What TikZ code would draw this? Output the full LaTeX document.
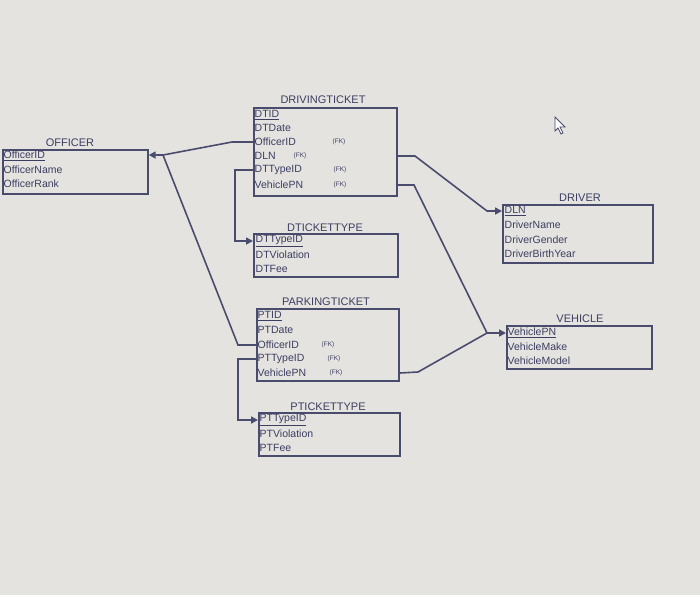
\documentclass[tikz,border=0pt]{standalone}
\usepackage{fontspec}
\setmainfont{Liberation Sans}
\usetikzlibrary{arrows.meta}
\definecolor{bg}{HTML}{E4E3DF}
\definecolor{ln}{HTML}{4A4C6E}
\definecolor{tx}{HTML}{3C3E62}
\tikzset{
 box/.style={draw=ln,line width=1.7pt,anchor=north west,inner sep=0pt},
 row/.style={anchor=west,inner sep=0.5pt,text=tx,font=\fontsize{10.5}{11}\selectfont},
 ttl/.style={inner sep=0pt,text=tx,font=\fontsize{11}{12}\selectfont},
 fk/.style={inner sep=0pt,text=tx,font=\fontsize{6.5}{7}\selectfont},
 con/.style={draw=ln,line width=1.6pt},
 arr/.style={con,-{Triangle[length=7pt,width=7pt]}}
}
\begin{document}
\begin{tikzpicture}[x=1pt,y=-1pt]
\fill[bg] (0,0) rectangle (700,595);
\useasboundingbox (0,0) rectangle (700,595);
% OFFICER
\node[box,minimum width=145pt,minimum height=44pt] (off) at (2,149) {};
\node[ttl] (offt) at (70,143) {OFFICER};
\node[row] (offid) at (3,156) {\underline{OfficerID}};
\node[row] (offn) at (3,170) {OfficerName};
\node[row] (offr) at (3,184) {OfficerRank};
% DRIVINGTICKET
\node[box,minimum width=143pt,minimum height=88pt] (dt) at (253,107) {};
\node[ttl] (dtt) at (323,100) {DRIVINGTICKET};
\node[row] (dtid) at (254,115) {\underline{DTID}};
\node[row] (dtd) at (254,128) {DTDate};
\node[row] (dtoff) at (254,142) {OfficerID};
\node[row] (dtdln) at (254,156) {DLN};
\node[row] (dttype) at (254,170) {DTTypeID};
\node[row] (dtveh) at (254,185) {VehiclePN};
\node[fk] (fk1) at (339,142) {(FK)};
\node[fk] (fk2) at (300,156) {(FK)};
\node[fk] (fk3) at (340,170) {(FK)};
\node[fk] (fk4) at (340,185) {(FK)};
% DTICKETTYPE
\node[box,minimum width=144pt,minimum height=43pt] (dtk) at (253,233) {};
\node[ttl] (dtkt) at (325,228) {DTICKETTYPE};
\node[row] (dtkid) at (255,241) {\underline{DTTypeID}};
\node[row] (dtkv) at (255,255) {DTViolation};
\node[row] (dtkf) at (255,269) {DTFee};
% PARKINGTICKET
\node[box,minimum width=142pt,minimum height=72pt] (pt) at (256,308) {};
\node[ttl] (ptt) at (326,302) {PARKINGTICKET};
\node[row] (ptid) at (257,316) {\underline{PTID}};
\node[row] (ptd) at (257,330) {PTDate};
\node[row] (ptoff) at (257,345) {OfficerID};
\node[row] (pttype) at (257,359) {PTTypeID};
\node[row] (ptveh) at (257,373) {VehiclePN};
\node[fk] (fk5) at (328,345) {(FK)};
\node[fk] (fk6) at (334,359) {(FK)};
\node[fk] (fk7) at (336,373) {(FK)};
% PTICKETTYPE
\node[box,minimum width=141pt,minimum height=43pt] (ptk) at (258,412) {};
\node[ttl] (ptkt) at (328,407) {PTICKETTYPE};
\node[row] (ptkid) at (259,420) {\underline{PTTypeID}};
\node[row] (ptkv) at (259,434) {PTViolation};
\node[row] (ptkf) at (259,448) {PTFee};
% DRIVER
\node[box,minimum width=150pt,minimum height=58pt] (dr) at (502,204) {};
\node[ttl] (drt) at (580,198) {DRIVER};
\node[row] (drid) at (504,211) {\underline{DLN}};
\node[row] (drn) at (504,225) {DriverName};
\node[row] (drg) at (504,240) {DriverGender};
\node[row] (drb) at (504,254) {DriverBirthYear};
% VEHICLE
\node[box,minimum width=145pt,minimum height=43pt] (ve) at (506,325) {};
\node[ttl] (vet) at (580,319) {VEHICLE};
\node[row] (veid) at (507,333) {\underline{VehiclePN}};
\node[row] (vem) at (507,347) {VehicleMake};
\node[row] (vemo) at (507,361) {VehicleModel};
% junctions
\coordinate (jo) at (163,155);
\coordinate (jv) at (487,333);
% connectors
\draw[arr] (dt.west |- dtoff) -- (232,142) -- (jo) -- (off.east |- jo);
\draw[con] (pt.west |- ptoff) -- (238,345) -- (jo);
\draw[arr] (dt.west |- dttype) -- (235,170) -- (235,241) -- (dtk.west |- dtkid);
\draw[arr] (pt.west |- pttype) -- (238,359) -- (238,420) -- (ptk.west |- ptkid);
\draw[arr] (dt.east |- dtdln) -- (415,156) -- (487,211) -- (dr.west |- drid);
\draw[arr] (dt.east |- dtveh) -- (414,185) -- (jv) -- (ve.west |- veid);
\draw[con] (pt.east |- ptveh) -- (418,372) -- (jv);
% cursor
\draw[ln,line width=0.8pt,fill=white] (555,117) -- (555,131) -- (558,128) -- (561,134) -- (563,133) -- (560,127) -- (565,127) -- cycle;
\end{tikzpicture}
\end{document}
